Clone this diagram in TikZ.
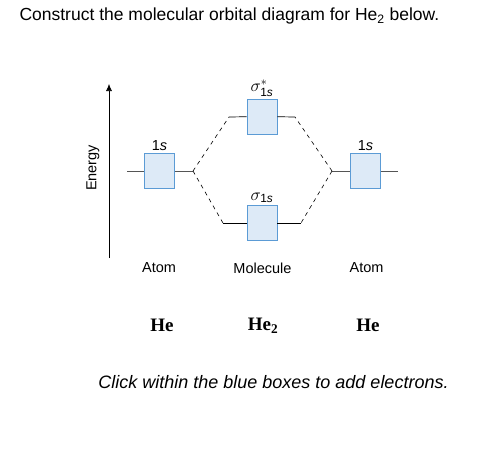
\documentclass[tikz,border=0pt]{standalone}
\usepackage{amsmath}
\usepackage{fontspec}
\setmainfont{Liberation Sans}
\newfontfamily\heserif{Liberation Serif}
\usetikzlibrary{positioning,arrows.meta}
\definecolor{orbfill}{HTML}{DDEAF7}
\definecolor{orbdraw}{HTML}{5B9BD5}
\definecolor{lvlgray}{HTML}{555555}
\begin{document}
\begin{tikzpicture}[x=1pt, y=-1pt,
    orb/.style={rectangle,draw=orbdraw,fill=orbfill,line width=0.9pt,minimum width=30pt,minimum height=35pt,inner sep=0pt},
    lvl/.style={lvlgray,line width=1pt},
    molvl/.style={black,line width=0.7pt},
    corr/.style={line width=0.6pt,dash pattern=on 4pt off 4pt},
    lab/.style={font=\fontsize{14.5}{17}\selectfont},
    orblab/.style={font=\fontsize{17}{19}\selectfont,inner sep=1pt},
    elem/.style={font=\heserif\bfseries\fontsize{19}{21}\selectfont}]
    \useasboundingbox (0,0) rectangle (504,458);

    \node[anchor=west, font=\fontsize{17.5}{20}\selectfont] (title) at (16,16) {Construct the molecular orbital diagram for He\textsubscript{2} below.};

    % energy axis
    \coordinate (ebot) at (109,258);
    \coordinate (etop) at (109,84);
    \draw[-{Latex[length=7pt,width=6pt]}, line width=0.6pt] (ebot) -- (etop);
    \node[lab, rotate=90] (energy) at (93,168) {Energy};

    % atomic orbitals
    \node[orb] (ao1) at (159.5,171) {};
    \node[orb] (ao2) at (365.5,171) {};
    \node[lab, inner sep=1pt] (ao1lab) [above=1pt of ao1] {1\textit{s}};
    \node[lab, inner sep=1pt] (ao2lab) [above=1pt of ao2] {1\textit{s}};
    \coordinate (ao1l) at (127,171);
    \coordinate (ao1r) at (193,171);
    \coordinate (ao2l) at (332,171);
    \coordinate (ao2r) at (398,171);
    \draw[lvl] (ao1l) -- (ao1);
    \draw[lvl] (ao1) -- (ao1r);
    \draw[lvl] (ao2l) -- (ao2);
    \draw[lvl] (ao2) -- (ao2r);

    % molecular orbitals
    \node[orb] (anti) at (262,116.5) {};
    \node[orb] (bond) at (262,223) {};
    \node[orblab] (antilab) [above=1pt of anti] {$\sigma^{*}_{\text{1\textit{s}}}$};
    \node[orblab] (bondlab) [above=1pt of bond] {$\sigma_{\text{1\textit{s}}}$};
    \coordinate (antil) at (229,117);
    \coordinate (antir) at (295,117);
    \coordinate (bondl) at (223,223);
    \coordinate (bondr) at (301,223);
    \draw[molvl] (antil) -- (anti);
    \draw[molvl] (anti) -- (antir);
    \draw[molvl] (bondl) -- (bond);
    \draw[molvl] (bond) -- (bondr);

    % correlation lines
    \draw[corr] (ao1r) -- (antil);
    \draw[corr] (ao1r) -- (bondl);
    \draw[corr] (ao2l) -- (antir);
    \draw[corr] (ao2l) -- (bondr);

    % captions
    \node[lab] (atom1) at (159,268) {Atom};
    \node[lab] (mol) at (262.5,268) {Molecule};
    \node[lab] (atom2) at (366.5,268) {Atom};
    \node[elem] (he1) at (162,325) {He};
    \node[elem] (he2) at (263,326) {He\textsubscript{2}};
    \node[elem] (he3) at (368,325) {He};

    \node[font=\itshape\fontsize{18}{21}\selectfont] (hint) at (273.5,382) {Click within the blue boxes to add electrons.};
\end{tikzpicture}
\end{document}
